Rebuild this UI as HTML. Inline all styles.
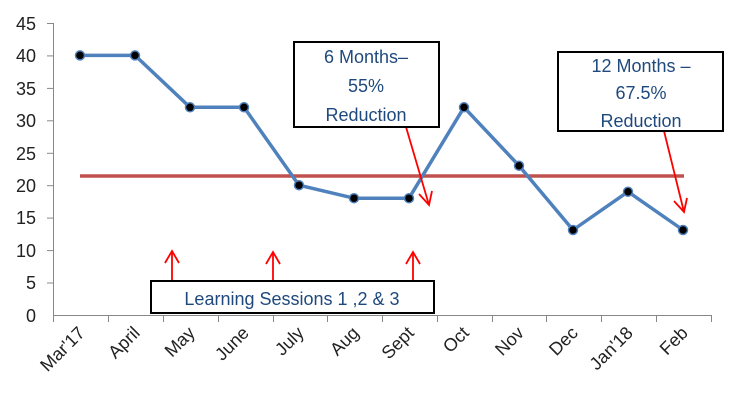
<!DOCTYPE html><html><head><style>body{margin:0;background:#fff}svg{display:block}text{font-family:"Liberation Sans",Calibri,sans-serif}</style></head><body>
<svg width="734" height="403" viewBox="0 0 734 403">
<g stroke="#888" stroke-width="1">
<line x1="53.5" y1="23" x2="53.5" y2="316"/>
<line x1="53" y1="315.5" x2="711" y2="315.5"/>
<line x1="47" y1="23.5" x2="53" y2="23.5"/><line x1="47" y1="55.9" x2="53" y2="55.9"/><line x1="47" y1="88.4" x2="53" y2="88.4"/><line x1="47" y1="120.8" x2="53" y2="120.8"/><line x1="47" y1="153.3" x2="53" y2="153.3"/><line x1="47" y1="185.7" x2="53" y2="185.7"/><line x1="47" y1="218.1" x2="53" y2="218.1"/><line x1="47" y1="250.6" x2="53" y2="250.6"/><line x1="47" y1="283" x2="53" y2="283"/>
<line x1="53.5" y1="315" x2="53.5" y2="322"/><line x1="108.5" y1="315" x2="108.5" y2="322"/><line x1="163.5" y1="315" x2="163.5" y2="322"/><line x1="218.5" y1="315" x2="218.5" y2="322"/><line x1="273.5" y1="315" x2="273.5" y2="322"/><line x1="327.5" y1="315" x2="327.5" y2="322"/><line x1="382.5" y1="315" x2="382.5" y2="322"/><line x1="437.5" y1="315" x2="437.5" y2="322"/><line x1="492.5" y1="315" x2="492.5" y2="322"/><line x1="546.5" y1="315" x2="546.5" y2="322"/><line x1="601.5" y1="315" x2="601.5" y2="322"/><line x1="656.5" y1="315" x2="656.5" y2="322"/><line x1="711.5" y1="315" x2="711.5" y2="322"/>
</g>
<g font-size="18" fill="#222" text-anchor="end">
<text x="36" y="30">45</text><text x="36" y="62">40</text><text x="36" y="95">35</text><text x="36" y="127">30</text><text x="36" y="160">25</text><text x="36" y="192">20</text><text x="36" y="224">15</text><text x="36" y="257">10</text><text x="36" y="289">5</text><text x="36" y="322">0</text>
</g>
<g font-size="18" fill="#222" text-anchor="end">
<text transform="translate(86,334) rotate(-45)">Mar'17</text>
<text transform="translate(141,334) rotate(-45)">April</text>
<text transform="translate(196,334) rotate(-45)">May</text>
<text transform="translate(250,334) rotate(-45)">June</text>
<text transform="translate(305,334) rotate(-45)">July</text>
<text transform="translate(360,334) rotate(-45)">Aug</text>
<text transform="translate(415,334) rotate(-45)">Sept</text>
<text transform="translate(470,334) rotate(-45)">Oct</text>
<text transform="translate(525,334) rotate(-45)">Nov</text>
<text transform="translate(579,334) rotate(-45)">Dec</text>
<text transform="translate(634,334) rotate(-45)">Jan'18</text>
<text transform="translate(689,334) rotate(-45)">Feb</text>
</g>
<line x1="80" y1="176" x2="684" y2="176" stroke="#c0504d" stroke-width="3.5"/>
<polyline fill="none" stroke="#4f81bd" stroke-width="3.5" stroke-linejoin="round" points="80,55.4 135,55.4 190,107.3 244,107.3 299,185.2 354,198.2 409,198.2 464,107.3 519,165.7 573,230 628,191.7 683,230"/>
<g fill="#000" stroke="#4f81bd" stroke-width="1.5">
<circle cx="80" cy="55.4" r="4.5"/><circle cx="135" cy="55.4" r="4.5"/><circle cx="190" cy="107.3" r="4.5"/><circle cx="244" cy="107.3" r="4.5"/><circle cx="299" cy="185.2" r="4.5"/><circle cx="354" cy="198.2" r="4.5"/><circle cx="409" cy="198.2" r="4.5"/><circle cx="464" cy="107.3" r="4.5"/><circle cx="519" cy="165.7" r="4.5"/><circle cx="573" cy="230" r="4.5"/><circle cx="628" cy="191.7" r="4.5"/><circle cx="683" cy="230" r="4.5"/>
</g>
<g stroke="red" stroke-width="1.8" fill="none">
<line x1="172" y1="281" x2="172" y2="251"/><polyline points="165,263 172,251 179,263"/>
<line x1="273" y1="281" x2="273" y2="252"/><polyline points="266,264 273,252 280,264"/>
<line x1="413" y1="281" x2="413" y2="252"/><polyline points="406,264 413,252 420,264"/>
<line x1="406" y1="127" x2="429" y2="205"/><polyline points="419,194 429,205 432,191"/>
<line x1="664" y1="131" x2="684" y2="212"/><polyline points="674,201 684,212 687,198"/>
</g>
<g fill="#fff" stroke="#000" stroke-width="2">
<rect x="294" y="42" width="145" height="85"/>
<rect x="151" y="281" width="283" height="32"/>
<rect x="558" y="52" width="165" height="79"/>
</g>
<g font-size="18" fill="#1f497d" text-anchor="middle">
<text x="366" y="63">6 Months–</text><text x="366" y="92">55%</text><text x="366" y="121">Reduction</text>
<text x="292" y="305">Learning Sessions 1 ,2 &amp; 3</text>
<text x="641" y="72">12 Months –</text><text x="641" y="99">67.5%</text><text x="641" y="127">Reduction</text>
</g>
</svg></body></html>
